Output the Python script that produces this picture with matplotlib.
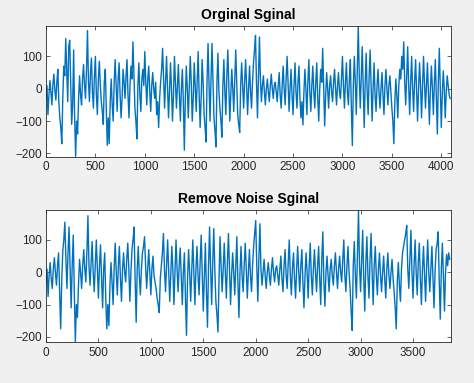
import matplotlib
matplotlib.use("Agg")
import matplotlib.pyplot as plt
import numpy as np

plt.rcParams['font.family'] = ['Liberation Sans', 'DejaVu Sans']

# Original signal, one value every 10 samples
orig_step = 10
orig_values = [
    -30, 10, -80, -20, 25, -10, -50, 15, 45, -5,
    -35, 20, 60, -40, -90, -120, -170, -30, 70, 40,
    155, 60, -40, 130, 150, 20, -110, -50, 120, -90,
    -209, -100, -140, -30, 40, -20, -50, 30, 75, 10,
    -30, 60, 180, 20, -40, 50, 95, -10, -60, 40,
    100, -20, -80, 30, 85, 10, -40, -70, -110, 20,
    60, -60, -175, -90, -170, -40, 30, -50, -100, 20,
    90, 10, -70, 30, 80, -20, -90, -30, 60, 20,
    -30, 40, 90, -20, -90, 10, 70, 30, 145, 40,
    -60, -100, -155, 10, 80, -20, -70, 30, 60, 10,
    115, 20, -50, 30, 70, -10, -70, 10, 50, 0,
    -30, 20, -80, -40, -120, -30, 20, 60, 125, 30,
    -60, 20, 100, 10, -90, -10, 80, 0, -100, -20,
    100, 20, -60, 10, 75, -20, -100, 0, 60, -40,
    -190, -30, 70, 0, -90, 10, 100, 20, -100, -30,
    80, 10, -70, 20, 115, -20, -120, -30, 90, 20,
    -80, -120, -165, 30, 140, 10, -100, 30, 140, 20,
    -90, -130, -180, 20, 110, -10, -60, -100, -150, 10,
    90, -10, -80, 40, 120, 10, -100, -20, 60, 0,
    -70, 30, 120, 20, -80, -110, -135, 10, 80, 10,
    -60, 20, 90, 10, -80, 0, 70, -10, -60, 20,
    80, 120, 165, 20, -90, 40, 160, 30, -40, 10,
    40, -10, -50, 0, 30, -10, -40, 10, 45, 0,
    -30, 10, 20, -10, -40, 10, 50, -20, -60, 10,
    70, 0, -50, 30, 100, 10, -70, 0, 60, -20,
    -80, 10, 80, -10, -60, 20, 70, -30, -90, -40,
    -112, -10, 60, 0, -80, 20, 90, -10, -70, 10,
    70, -10, -60, 20, 80, -30, -100, 0, 60, 20,
    125, 10, -115, -20, 50, 0, -60, 10, 40, -10,
    -40, 20, 60, 0, -50, 10, 50, -10, -30, 30,
    100, 10, -60, 20, 80, -10, -50, 30, 90, -60,
    -176, 10, 100, 20, -80, 60, 195, 40, -60, 30,
    130, 0, -120, 20, 110, -10, -80, 40, 120, 10,
    -100, 0, 80, -20, -70, 10, 60, -10, -60, 0,
    50, -20, -80, 10, 60, 0, -50, 10, 40, -10,
    -60, -100, -170, -40, 30, -20, -90, 10, 60, 30,
    100, 60, 145, 20, -50, 40, 130, 10, -80, 20,
    100, 0, -70, 20, 90, -10, -100, 0, 80, 10,
    -90, 10, 100, 20, -60, 10, 80, -20, -110, 0,
    70, 0, -80, 20, 90, -30, -140, 20, 125, 0,
    -120, -20, 55, 0, -90, -10, 40, 10, -20, -30,
]

# Denoised signal, one value every 10 samples
clean_step = 10
clean_values = [
    -30, 10, -75, -10, 30, -20, -50, 10, 45, 0,
    -40, 20, 60, -60, -175, -30, 65, 100, 155, 40,
    -50, 60, 140, 10, -110, 20, 115, -60, -215, -100,
    -140, -40, 40, 0, -50, 20, 70, 10, -30, 60,
    175, 20, -40, 30, 95, 0, -60, 20, 100, 10,
    -80, 20, 85, -20, -110, 10, 60, -80, -175, -100,
    -165, -40, 30, -30, -100, 10, 90, 0, -70, 20,
    80, -20, -90, 10, 60, 0, -30, 40, 90, 10,
    -90, 0, 70, 100, 140, -20, -155, 10, 80, -10,
    -70, 10, 60, 80, 110, 20, -50, 10, 70, 0,
    -70, 10, 50, -10, -30, -50, -80, -100, -125, -20,
    20, 60, 120, 10, -60, 20, 100, 0, -90, -10,
    80, 10, -100, 0, 100, 10, -60, 20, 75, -10,
    -100, 0, 60, -80, -195, -20, 70, 0, -90, 10,
    100, 0, -100, 10, 80, -10, -70, 30, 115, 0,
    -120, -10, 90, -60, -170, 20, 140, 10, -100, 30,
    135, 10, -90, -130, -185, -20, 110, 20, -60, 10,
    90, 0, -80, 30, 120, 10, -100, -10, 60, 0,
    -70, 20, 110, -30, -140, 0, 80, -10, -60, 20,
    90, 10, -80, 0, 70, -10, -60, 20, 80, 120,
    160, 20, -90, 40, 150, 10, -40, 0, 40, -10,
    -50, 0, 30, -10, -40, 10, 45, 0, -30, 10,
    20, -10, -40, 10, 50, -20, -60, 20, 70, -10,
    -50, 30, 100, -10, -70, 10, 60, -20, -80, 10,
    80, 0, -60, 20, 70, -30, -110, -10, 60, 0,
    -80, 20, 90, -10, -70, 10, 70, 0, -60, 20,
    80, -20, -100, 40, 125, -30, -105, 0, 50, -10,
    -60, 10, 40, -10, -40, 20, 60, 0, -50, 10,
    50, 0, -30, 40, 100, -10, -60, 20, 80, 0,
    -50, -120, -180, 20, 95, -10, -80, 60, 190, 20,
    -60, 40, 130, -20, -120, 30, 110, -10, -80, 40,
    120, 0, -100, 20, 80, -10, -70, 10, 60, -10,
    -60, 0, 50, -20, -80, 10, 60, -10, -50, 0,
    40, -20, -60, -110, -175, -30, 30, -40, -90, 10,
    60, 80, 100, 120, 145, 10, -50, 40, 130, 0,
    -80, 20, 100, 0, -70, 30, 90, -20, -100, 10,
    80, -10, -90, 20, 100, 0, -60, 10, 80, -20,
    -110, 0, 70, 90, 125, -30, -145, 10, 90, -20,
    -120, 0, 55, 20, 60, 40,
]

titles = ["Orginal Sginal", "Remove Noise Sginal"]
orig_xticks = [0, 500, 1000, 1500, 2000, 2500, 3000, 3500, 4000]
clean_xticks = [0, 500, 1000, 1500, 2000, 2500, 3000, 3500]
yticks = [-200, -100, 0, 100]

line_color = '#0072BD'
txt_color = '#262626'

fig = plt.figure(figsize=(4.74, 3.83), dpi=100, facecolor='#f0f0f0')

specs = [
    ([0.097, 0.591, 0.854, 0.342], orig_values, orig_step, orig_xticks, (0, 4096), (-210, 195), titles[0]),
    ([0.097, 0.106, 0.854, 0.346], clean_values, clean_step, clean_xticks, (0, 3860), (-217, 193), titles[1]),
]

for rect, vals, step, xt, xl, yl, title in specs:
    ax = fig.add_axes(rect)
    ax.set_facecolor('white')
    x = np.arange(len(vals)) * step
    ax.plot(x, vals, color=line_color, linewidth=1.0)
    ax.set_xlim(*xl)
    ax.set_ylim(*yl)
    ax.set_xticks(xt)
    ax.set_yticks(yticks)
    ax.tick_params(direction='in', length=3, width=0.5, colors=txt_color,
                   labelsize=8.5, top=True, right=True, pad=3)
    for s in ax.spines.values():
        s.set_color(txt_color)
        s.set_linewidth(0.6)
    ax.set_title(title, fontsize=10, fontweight='bold', color='black', pad=5)

fig.savefig('out.png', dpi=100, facecolor=fig.get_facecolor())
